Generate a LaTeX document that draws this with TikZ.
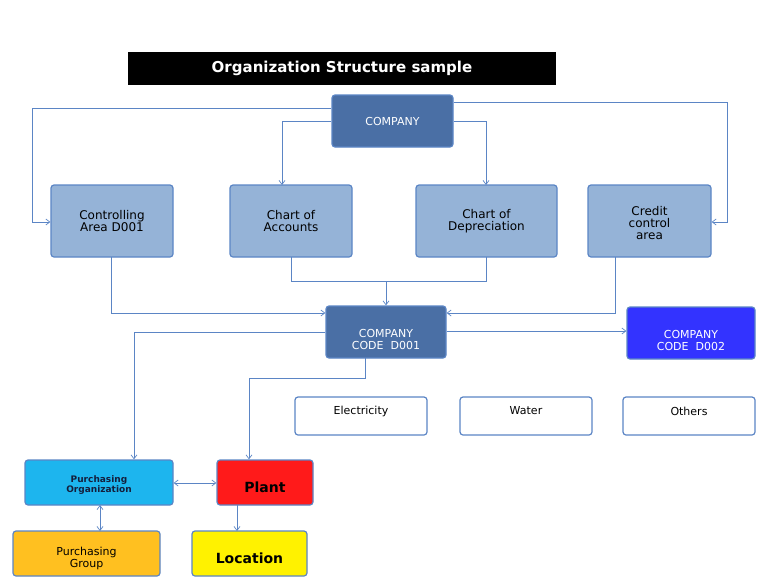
\documentclass[tikz,border=0pt]{standalone}
\usepackage{fontspec}
\setmainfont{DejaVu Sans}
\usetikzlibrary{arrows.meta}
\definecolor{ln}{HTML}{5B85C5}
\definecolor{dk}{HTML}{4A6FA5}
\definecolor{lt}{HTML}{95B3D7}
\begin{document}
\begin{tikzpicture}[x=1pt,y=-1pt,
 bx/.style={draw=ln,line width=1.2pt,rounded corners=3pt,align=center,inner sep=0pt},
 c/.style={draw=ln,line width=0.7pt},
 a/.style={c,-{Straight Barb[length=4pt,width=6pt]}},
 aa/.style={c,{Straight Barb[length=4pt,width=6pt]}-{Straight Barb[length=4pt,width=6pt]}}]
\useasboundingbox (0,0) rectangle (768,576);
\newcommand\bxat[6]{\node[bx,#6,minimum width=#3-#1,minimum height=#4-#2] (#5) at ({(#1+#3)/2},{(#2+#4)/2}) {};}
\node[fill=black,text=white,font=\bfseries\fontsize{15}{16}\selectfont,minimum width=428,minimum height=33,inner sep=0] (t) at (342,68.5) {Organization Structure sample};
\bxat{332}{95}{453}{147}{co}{fill=dk}
\node[text=white,font=\fontsize{11}{13}\selectfont] at (co) {COMPANY};
\bxat{51}{185}{173}{257}{ca}{fill=lt}
\node[font=\fontsize{12}{12}\selectfont,align=center] at (ca) {Controlling\\Area D001};
\bxat{230}{185}{352}{257}{acc}{fill=lt}
\node[font=\fontsize{12}{12}\selectfont,align=center] at (acc) {Chart of\\Accounts};
\bxat{416}{185}{557}{257}{dep}{fill=lt}
\node[font=\fontsize{12}{12}\selectfont,align=center] at (dep) {Chart of\\Depreciation};
\bxat{588}{185}{711}{257}{cr}{fill=lt}
\node[font=\fontsize{12}{12}\selectfont,align=center] at ([yshift=-2]cr) {Credit\\control\\area};
\bxat{326}{306}{446}{358}{cc}{fill=dk}
\node[text=white,font=\fontsize{11}{12}\selectfont,align=center] at ([yshift=-7]cc) {COMPANY\\CODE\ \ D001};
\bxat{627}{307}{755}{359}{cc2}{fill={rgb,255:red,51;green,51;blue,255}}
\node[text=white,font=\fontsize{11}{12}\selectfont,align=center] at ([yshift=-7]cc2) {COMPANY\\CODE\ \ D002};
\bxat{295}{397}{427}{435}{el}{fill=white}
\node[font=\fontsize{11}{12}\selectfont] at ([yshift=5]el) {Electricity};
\bxat{460}{397}{592}{435}{wa}{fill=white}
\node[font=\fontsize{11}{12}\selectfont] at ([yshift=5]wa) {Water};
\bxat{623}{397}{755}{435}{ot}{fill=white}
\node[font=\fontsize{11}{12}\selectfont] at ([yshift=5]ot) {Others};
\bxat{25}{460}{173}{505}{po}{fill={rgb,255:red,29;green,181;blue,238}}
\node[font=\bfseries\fontsize{9}{10}\selectfont,text={rgb,255:red,20;green,30;blue,60},align=center] at ([yshift=-3]po) {Purchasing\\Organization};
\bxat{217}{460}{313}{505}{pl}{fill={rgb,255:red,255;green,26;blue,26}}
\node[font=\bfseries\fontsize{14}{14}\selectfont] at ([yshift=-5]pl) {Plant};
\bxat{13}{531}{160}{576}{pg}{fill={rgb,255:red,255;green,192;blue,32}}
\node[font=\fontsize{11}{12}\selectfont,align=center] at ([yshift=-5]pg) {Purchasing\\Group};
\bxat{192}{531}{307}{576}{lo}{fill=yellow}
\node[font=\bfseries\fontsize{14}{14}\selectfont] at ([yshift=-5]lo) {Location};
% connectors
\draw[a] (co.west|-0,108) -| (32,222) -- (ca.west|-0,222);
\draw[a] (co.west|-0,121) -| (282,185);
\draw[a] (co.east|-0,121) -| (486,185);
\draw[a] (co.east|-0,102) -| (727,222) -- (cr.east|-0,222);
\draw[a] (111,257) |- (cc.west|-0,313);
\draw[c] (291,257) |- (486,281) -- (486,257);
\draw[a] (386,281) -- (cc.north-|386,0);
\draw[a] (615,257) |- (cc.east|-0,313);
\draw[a] (cc.east|-0,331) -- (cc2.west|-0,331);
\draw[a] (cc.west|-0,332) -| (po.north-|134,0);
\draw[a] (365,358) |- (249,378) -- (pl.north-|249,0);
\draw[aa] (po.east|-0,483) -- (pl.west|-0,483);
\draw[aa] (100,505) -- (100,531);
\draw[a] (237,505) -- (237,531);
\end{tikzpicture}
\end{document}
